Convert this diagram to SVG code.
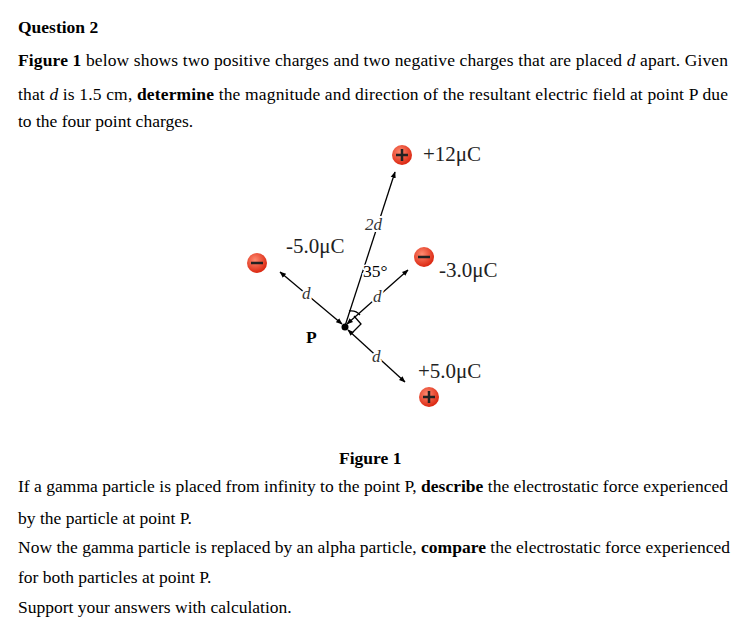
<svg xmlns="http://www.w3.org/2000/svg" width="755" height="621" viewBox="0 0 755 621">
<defs>
<marker id="ah" viewBox="0 0 10 10" refX="9" refY="5" markerWidth="5" markerHeight="5" orient="auto-start-reverse"><path d="M0,1 L10,5 L0,9 z" fill="#000"/></marker>
<radialGradient id="rg" cx="0.4" cy="0.35" r="0.7"><stop offset="0" stop-color="#ff8a70"/><stop offset="1" stop-color="#d8200a"/></radialGradient>
</defs>
<style>
.t{font-family:"Liberation Serif",serif;font-size:17.5px;fill:#000}
.b{font-weight:bold}
.q{font-family:"Liberation Serif",serif;font-size:21px;fill:#222}
.d{font-family:"Liberation Serif",serif;font-style:italic;font-size:17px;fill:#333;stroke:#fff;stroke-width:4;paint-order:stroke}
.ln{stroke:#000;stroke-width:1.3;fill:none}
.c{fill:url(#rg)}
.s{stroke:#222;stroke-width:2.5;fill:none}
</style>
<rect width="755" height="621" fill="#fff"/>
<text class="t b" x="18" y="33">Question 2</text>
<text class="t" x="18" y="66" textLength="710" lengthAdjust="spacing"><tspan class="b">Figure 1</tspan> below shows two positive charges and two negative charges that are placed <tspan font-style="italic">d</tspan> apart. Given</text>
<text class="t" x="18" y="100" textLength="710" lengthAdjust="spacing">that <tspan font-style="italic">d</tspan> is 1.5 cm, <tspan class="b">determine</tspan> the magnitude and direction of the resultant electric field at point P due</text>
<text class="t" x="18" y="127">to the four point charges.</text>
<g id="connectors">
<line class="ln" x1="345" y1="326" x2="395" y2="172" marker-end="url(#ah)"/>
<line class="ln" x1="280" y1="272" x2="342" y2="324" marker-start="url(#ah)" marker-end="url(#ah)"/>
<line class="ln" x1="347" y1="324" x2="408" y2="270" marker-start="url(#ah)" marker-end="url(#ah)"/>
<line class="ln" x1="348" y1="330" x2="405" y2="382" marker-start="url(#ah)" marker-end="url(#ah)"/>
<path class="ln" d="M354,316 L361,324 L353,332" stroke-width="1"/>
<path class="ln" d="M349,311 Q356,310 360,315" stroke-width="1"/>
</g>
<g id="P"><circle cx="345" cy="327" r="3.5" fill="#000"/><text class="t b" x="306" y="343" font-size="18">P</text></g>
<g id="q12"><circle class="c" cx="402" cy="155" r="10"/><path class="s" d="M396,155 H408 M402,149 V161"/><text class="q" x="423" y="161">+12μC</text></g>
<g id="q5n"><circle class="c" cx="257" cy="263" r="10"/><path class="s" d="M251,263 H263"/><text class="q" x="286" y="253" font-size="19">-5.0μC</text></g>
<g id="q3n"><circle class="c" cx="424" cy="257" r="10"/><path class="s" d="M418,257 H430"/><text class="q" x="439" y="277" font-size="19">-3.0μC</text></g>
<g id="q5p"><circle class="c" cx="429" cy="397" r="10"/><path class="s" d="M423,397 H435 M429,391 V403"/><text class="q" x="418" y="378" font-size="19">+5.0μC</text></g>
<g id="labels">
<text class="d" x="365" y="230">2d</text>
<text class="t" x="363" y="277" font-size="11" style="stroke:#fff;stroke-width:3;paint-order:stroke">35°</text>
<text class="d" x="302" y="299">d</text>
<text class="d" x="373" y="302">d</text>
<text class="d" x="372" y="362">d</text>
</g>
<text class="t b" x="339" y="464">Figure 1</text>
<text class="t" x="18" y="492" textLength="710" lengthAdjust="spacing">If a gamma particle is placed from infinity to the point P, <tspan class="b">describe</tspan> the electrostatic force experienced</text>
<text class="t" x="18" y="524">by the particle at point P.</text>
<text class="t" x="18" y="553" textLength="712" lengthAdjust="spacing">Now the gamma particle is replaced by an alpha particle, <tspan class="b">compare</tspan> the electrostatic force experienced</text>
<text class="t" x="18" y="583">for both particles at point P.</text>
<text class="t" x="18" y="613">Support your answers with calculation.</text>
</svg>
